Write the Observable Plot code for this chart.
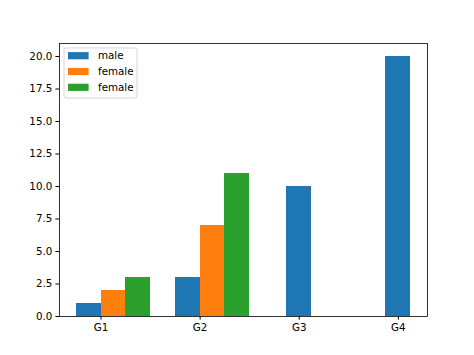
<!DOCTYPE html>
<html><head><meta charset="utf-8">
<script src="https://cdn.jsdelivr.net/npm/d3@7"></script>
<script src="https://cdn.jsdelivr.net/npm/@observablehq/plot@0.6"></script>
<style>body{margin:0;background:#fff} svg{display:block}</style>
</head><body><div id="chart"></div>
<script>
const groups = ["G1", "G2", "G3", "G4"];
const male = [1, 3, 10, 20];
const female = [2, 7];
const female2 = [3, 11];
const seriesNames = ["male", "female", "female"];
const colors = ["#1f77b4", "#ff7f0e", "#2ca02c"];
const yTicks = [0, 2.5, 5, 7.5, 10, 12.5, 15, 17.5, 20];
const barWidth = 0.25;
const maleOffsets = [-0.125, -0.125, 0, 0];
const femaleOffset = 0.125;
const female2Offset = 0.375;

const rows = [];
male.forEach((v, i) => rows.push({s: 0, c: i + maleOffsets[i], y: v}));
female.forEach((v, i) => rows.push({s: 1, c: i + femaleOffset, y: v}));
female2.forEach((v, i) => rows.push({s: 2, c: i + female2Offset, y: v}));
rows.forEach(r => { r.x1 = r.c - barWidth / 2; r.x2 = r.c + barWidth / 2; r.fill = colors[r.s]; });

const lo = d3.min(rows, r => r.x1), hi = d3.max(rows, r => r.x2);
const pad = (hi - lo) * 0.05;
const ymax = d3.max(rows, r => r.y) * 1.05;

const plot = Plot.plot({
  width: 474, height: 355,
  marginLeft: 59, marginRight: 47, marginTop: 43, marginBottom: 39,
  style: {fontFamily: "DejaVu Sans", fontSize: "10.3px", color: "#000", background: "#fff"},
  x: {type: "linear", domain: [lo - pad, hi + pad], ticks: groups.map((g, i) => i),
      tickFormat: i => groups[i], label: null, tickSize: 3.6, tickPadding: 3.6},
  y: {domain: [0, ymax], ticks: yTicks, tickFormat: d => d.toFixed(1), label: null,
      tickSize: 3.6, tickPadding: 3.6},
  color: {type: "identity"},
  marks: [
    Plot.rectY(rows, {x1: "x1", x2: "x2", y: "y", fill: "fill", shapeRendering: "crispEdges"}),
    Plot.frame({stroke: "#000", strokeWidth: 0.8})
  ]
});
document.getElementById("chart").appendChild(plot);

const svg = d3.select(plot);
const lg = svg.append("g").attr("transform", "translate(64,48)")
  .style("font-family", "DejaVu Sans").style("font-size", "10.3px")
  .attr("text-anchor", "start");
lg.append("rect").attr("width", 73).attr("height", 50).attr("rx", 2)
  .attr("fill", "#fff").attr("fill-opacity", 0.8).attr("stroke", "#cccccc").attr("stroke-width", 0.8);
seriesNames.forEach((name, i) => {
  const cy = 7.7 + i * 15.8;
  lg.append("rect").attr("x", 4).attr("y", cy - 3.6).attr("width", 20.6).attr("height", 7.2).attr("fill", colors[i]);
  lg.append("text").attr("x", 34).attr("y", cy).attr("dy", "0.35em").attr("fill", "#000")
    .attr("text-anchor", "start").text(name);
});
</script></body></html>
